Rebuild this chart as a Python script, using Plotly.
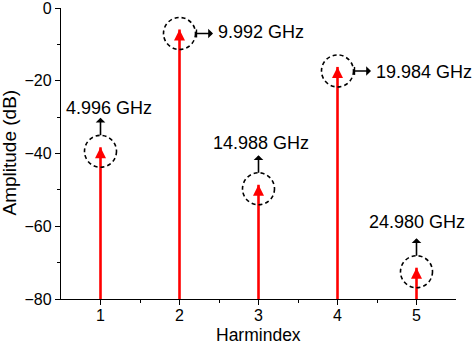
import plotly.graph_objects as go

# Harmonic spectrum data
harmonics = [1, 2, 3, 4, 5]
amplitude_db = [-38.3, -5.9, -48.6, -16.2, -71.4]
freq_labels = ["4.996 GHz", "9.992 GHz", "14.988 GHz", "19.984 GHz", "24.980 GHz"]
y_floor = -80

FONT = "Liberation Sans, Arial, sans-serif"
RED = "#ff0000"

fig = go.Figure()

# Stems from the floor up to each harmonic amplitude
stem_x, stem_y = [], []
for h, a in zip(harmonics, amplitude_db):
    stem_x += [h, h, None]
    stem_y += [y_floor, a, None]
fig.add_trace(go.Scatter(x=stem_x, y=stem_y, mode="lines",
                         line=dict(color=RED, width=2.6), hoverinfo="skip",
                         showlegend=False, cliponaxis=False))
# Arrow heads at the stem tips
fig.add_trace(go.Scatter(x=harmonics, y=amplitude_db, mode="markers",
                         marker=dict(symbol="arrow-up", size=11, color=RED,
                                     line=dict(width=0)),
                         showlegend=False, cliponaxis=False))

# Callout layout per harmonic: direction of the pointer and label offset
callouts = [
    dict(dir="up", tx=8, ty=39, anchor="center"),
    dict(dir="right", tx=36, ty=-3, anchor="left"),
    dict(dir="up", tx=2, ty=42, anchor="center"),
    dict(dir="right", tx=36, ty=-5, anchor="left"),
    dict(dir="up", tx=0, ty=46, anchor="center"),
]

R = 16      # circle radius in px
DROP = 4    # circle centre below the tip, px

for h, a, lab, c in zip(harmonics, amplitude_db, freq_labels, callouts):
    # dashed circle around the tip
    fig.add_shape(type="circle", xref="x", yref="y",
                  xsizemode="pixel", ysizemode="pixel",
                  xanchor=h, yanchor=a,
                  x0=-R, x1=R, y0=-DROP - R, y1=-DROP + R,
                  line=dict(color="black", width=1.6, dash="4px,3px"))
    if c["dir"] == "up":
        fig.add_annotation(x=h, y=a, yshift=R - DROP, text="", showarrow=True,
                           ax=0, ay=-19, arrowside="start", arrowhead=2,
                           arrowsize=1, arrowwidth=1.6, arrowcolor="black")
    else:
        fig.add_annotation(x=h, y=a, xshift=R, yshift=-DROP, text="",
                           showarrow=True, ax=19, ay=0, arrowside="start",
                           arrowhead=2, arrowsize=1, arrowwidth=1.6,
                           arrowcolor="black")
        # short bar at the pointer tail
        fig.add_shape(type="line", xref="x", yref="y",
                      xsizemode="pixel", ysizemode="pixel",
                      xanchor=h, yanchor=a,
                      x0=R + 1, x1=R + 1, y0=-DROP - 4, y1=-DROP + 4,
                      line=dict(color="black", width=1.4))
    fig.add_annotation(x=h, y=a, xshift=c["tx"], yshift=c["ty"], text=lab,
                       showarrow=False, xanchor=c["anchor"], yanchor="middle",
                       font=dict(family=FONT, size=18, color="black"))

# Axis titles
fig.add_annotation(xref="paper", yref="paper", x=0.5, y=0, yshift=-36,
                   text="Harmindex", showarrow=False, xanchor="center",
                   yanchor="middle", font=dict(family=FONT, size=17.5))
fig.add_annotation(xref="paper", yref="paper", x=0, y=0.5, xshift=-52,
                   yshift=1, text="Amplitude (dB)", textangle=-90,
                   showarrow=False, xanchor="center", yanchor="middle",
                   font=dict(family=FONT, size=19))

fig.update_layout(
    width=474, height=345,
    margin=dict(l=61, r=18, t=8, b=46),
    plot_bgcolor="white", paper_bgcolor="white",
    font=dict(family=FONT, size=16, color="black"),
    showlegend=False,
)
fig.update_xaxes(
    range=[0.5, 5.5], tickvals=harmonics, ticks="outside", ticklen=5,
    tickwidth=1.3, tickcolor="black", showline=True, linecolor="black",
    linewidth=1.3, showgrid=False, zeroline=False, automargin=False,
    minor=dict(tickvals=[1.5, 2.5, 3.5, 4.5], ticks="outside", ticklen=3,
               tickwidth=1.3, tickcolor="black", showgrid=False),
    tickfont=dict(size=16), ticklabeloverflow="allow", ticklabelstandoff=-3,
)
fig.update_yaxes(
    range=[-80, 0], tickvals=[0, -20, -40, -60, -80], ticks="outside",
    ticklen=5, tickwidth=1.3, tickcolor="black", showline=True,
    linecolor="black", linewidth=1.3, showgrid=False, zeroline=False,
    automargin=False,
    minor=dict(tickvals=[-10, -30, -50, -70], ticks="outside", ticklen=3,
               tickwidth=1.3, tickcolor="black", showgrid=False),
    tickfont=dict(size=16), ticklabeloverflow="allow",
)

fig.write_html("out.html")
